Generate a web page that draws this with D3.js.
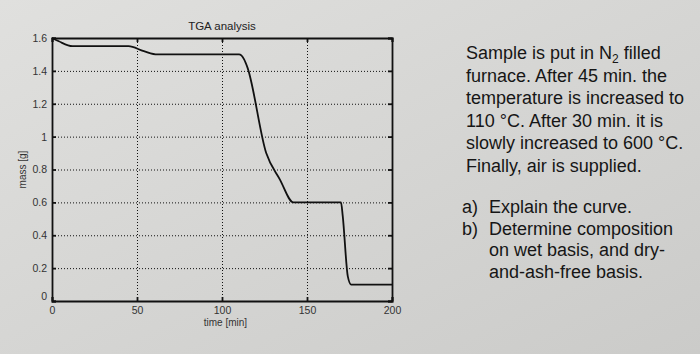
<!DOCTYPE html>
<html>
<head>
<meta charset="utf-8">
<script src="https://cdn.jsdelivr.net/npm/d3@7"></script>
<style>
  body { margin: 0; background: #d6d6d4; }
  svg { display: block; font-family: "Liberation Sans", Arial, sans-serif; }
</style>
</head>
<body>
<div class="tgaViz"></div>
<script>
// TGA curve
var time = [0, 4, 12, 45, 54, 62, 110, 113, 115, 126, 134, 142, 170, 171, 174, 176, 200];
var mass = [1.6, 1.58, 1.55, 1.55, 1.52, 1.5, 1.5, 1.47, 1.42, 0.9, 0.74, 0.6, 0.6, 0.52, 0.15, 0.1, 0.1];

var xTicks = [0, 50, 100, 150, 200];
var yTicks = [0, 0.2, 0.4, 0.6, 0.8, 1, 1.2, 1.4, 1.6];

var noteLines = [
    "Sample is put in N<sub> filled",
    "furnace. After 45 min. the",
    "temperature is increased to",
    "110 °C. After 30 min. it is",
    "slowly increased to 600 °C.",
    "Finally, air is supplied."
];
var questions = [
    ["a)", "Explain the curve."],
    ["b)", "Determine composition"],
    ["", "on wet basis, and dry-"],
    ["", "and-ash-free basis."]
];

function chart() {

    var width = 700,
        height = 354
    var margin = ({
        top: 38,
        right: 308,
        bottom: 53,
        left: 52
    })

    var svg = d3.select(".tgaViz")
        .append("svg")
        .attr("width", width)
        .attr("height", height)

    // photo background, a bit lighter top left
    var grad = svg.append("defs").append("linearGradient")
        .attr("id", "bg")
        .attr("x1", 0).attr("y1", 0).attr("x2", 1).attr("y2", 1)
    grad.append("stop").attr("offset", 0).attr("stop-color", "#e0e0de")
    grad.append("stop").attr("offset", 1).attr("stop-color", "#cbcbc9")
    svg.append("rect")
        .attr("width", width)
        .attr("height", height)
        .attr("fill", "url(#bg)")

    var x = d3.scaleLinear()
        .domain([0, 200])
        .range([margin.left, width - margin.right])

    var y = d3.scaleLinear()
        .domain([0, 1.6])
        .range([height - margin.bottom, margin.top])

    var plotW = x.range()[1] - x.range()[0],
        plotH = y.range()[0] - y.range()[1]

    // dotted grid
    svg.append("g")
        .attr("class", "grid")
        .attr("transform", `translate(${margin.left},0)`)
        .call(d3.axisLeft(y).tickValues(yTicks.slice(1, -1)).tickSize(-plotW).tickFormat(""))
    svg.append("g")
        .attr("class", "grid")
        .attr("transform", `translate(0,${y(0)})`)
        .call(d3.axisBottom(x).tickValues(xTicks.slice(1, -1)).tickSize(-plotH).tickFormat(""))
    svg.selectAll(".grid .domain").remove()
    svg.selectAll(".grid line")
        .attr("stroke", "#444")
        .attr("stroke-width", 1)
        .attr("stroke-dasharray", "1,2")

    // axes with inward ticks
    var yAxis = svg.append("g")
        .attr("transform", `translate(${margin.left},0)`)
        .call(d3.axisLeft(y).tickValues(yTicks).tickSize(-4).tickPadding(5).tickFormat(d3.format("")))
    var xAxis = svg.append("g")
        .attr("transform", `translate(0,${y(0)})`)
        .call(d3.axisBottom(x).tickValues(xTicks).tickSize(-4).tickPadding(6))
    svg.append("g")
        .attr("transform", `translate(${x(200)},0)`)
        .call(d3.axisRight(y).tickValues(yTicks).tickSize(-4).tickFormat(""))
    svg.append("g")
        .attr("transform", `translate(0,${y(1.6)})`)
        .call(d3.axisTop(x).tickValues(xTicks).tickSize(-4).tickFormat(""))

    svg.selectAll(".domain, .tick line")
        .attr("stroke", "#111")
        .attr("stroke-width", 1.8)
    svg.selectAll(".grid line").attr("stroke-width", 1)
    svg.selectAll(".tick text")
        .attr("font-size", 10.5)
        .attr("fill", "#333")
        .attr("font-family", null)

    // matlab puts the zero labels close to the corner
    yAxis.selectAll(".tick text").filter(d => d === 0).attr("dy", "-0.1em")

    // curve
    var line = d3.line()
        .x(d => x(d[0]))
        .y(d => y(d[1]))
        .curve(d3.curveMonotoneX)

    svg.append("path")
        .datum(d3.zip(time, mass))
        .attr("fill", "none")
        .attr("stroke", "#111")
        .attr("stroke-width", 1.8)
        .attr("d", line)

    // titles
    svg.append("text")
        .attr("x", x(100))
        .attr("y", 30)
        .attr("text-anchor", "middle")
        .attr("font-size", 11.5)
        .attr("fill", "#222")
        .text("TGA analysis")

    svg.append("text")
        .attr("x", x(102))
        .attr("y", 326)
        .attr("text-anchor", "middle")
        .attr("font-size", 10)
        .attr("fill", "#333")
        .text("time [min]")

    svg.append("text")
        .attr("transform", `translate(26,${y(0.8)}) rotate(-90)`)
        .attr("text-anchor", "middle")
        .attr("font-size", 10)
        .attr("fill", "#333")
        .text("mass [g]")

    // question text on the right
    var notes = svg.append("g")
        .attr("font-size", 18)
        .attr("fill", "#161616")

    noteLines.forEach(function (s, i) {
        var t = notes.append("text")
            .attr("x", 466)
            .attr("y", 59 + i * 22.6)
        if (s.indexOf("<sub>") >= 0) {
            var parts = s.split("<sub>")
            t.append("tspan").text(parts[0])
            t.append("tspan").attr("font-size", 12).attr("dy", 4).text("2")
            t.append("tspan").attr("dy", -4).text(parts[1])
        } else {
            t.text(s)
        }
    })

    var qy = [213, 235, 256, 278]
    questions.forEach(function (q, i) {
        notes.append("text").attr("x", 462).attr("y", qy[i]).text(q[0])
        notes.append("text").attr("x", 489).attr("y", qy[i]).text(q[1])
    })
}

chart();
</script>
</body>
</html>
